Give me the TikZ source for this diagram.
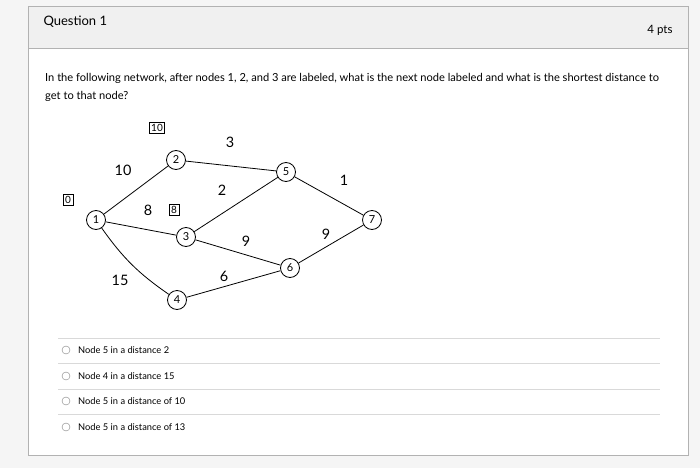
\documentclass[tikz,border=0pt]{standalone}
\usepackage{fontspec}
\setmainfont{Lato}
\begin{document}
\begin{tikzpicture}[x=1pt,y=-1pt,
  nd/.style={circle,draw,thick,minimum size=19pt,inner sep=0pt,font=\fontsize{11}{13}\selectfont},
  ed/.style={thick},
  hw/.style={font=\Large},
  bx/.style={draw,thick,inner sep=2pt,font=\normalsize},
  radio/.style={circle,draw=gray,minimum size=8pt,inner sep=0pt},
  opt/.style={anchor=west,font=\fontsize{9.3}{11}\selectfont,inner sep=0pt}]
\fill[gray!8] (0,0) rectangle (700,468);
\fill[white] (28,6) rectangle (688,455);
\fill[gray!12] (28,6) rectangle (688,48);
\draw[gray!60] (28,6) rectangle (688,455);
\draw[gray!60] (28,48) -- (688,48);
\node[anchor=west,font=\fontsize{13}{15}\selectfont] (q) at (40,22) {Question 1};
\node[anchor=east,font=\fontsize{11.5}{13}\selectfont] (pts) at (676,30) {4 pts};
\node[anchor=west,font=\fontsize{11.1}{13}\selectfont,inner sep=0pt] (t1) at (45,78) {In the following network, after nodes 1, 2, and 3 are labeled, what is the next node labeled and what is the shortest distance to};
\node[anchor=west,font=\fontsize{11.1}{13}\selectfont,inner sep=0pt] (t2) at (45,96) {get to that node?};
\node[nd] (n1) at (96,220) {1};
\node[nd] (n2) at (176,160) {2};
\node[nd] (n3) at (186,237) {3};
\node[nd] (n4) at (177,300) {4};
\node[nd] (n5) at (286,172) {5};
\node[nd] (n6) at (290,268) {6};
\node[nd] (n7) at (372,220) {7};
\draw[ed] (n1) -- (n2);
\draw[ed] (n1) -- (n3);
\draw[ed] (n1) to[bend right=10] (n4);
\draw[ed] (n2) -- (n5);
\draw[ed] (n3) -- (n5);
\draw[ed] (n3) -- (n6);
\draw[ed] (n4) -- (n6);
\draw[ed] (n5) -- (n7);
\draw[ed] (n6) -- (n7);
\node[hw] (l12) at (123,170) {10};
\node[hw] (l13) at (148,210) {8};
\node[bx] (b3) at (174,210) {8};
\node[hw] (l14) at (120,280) {15};
\node[hw] (l25) at (230,142) {3};
\node[hw] (l35) at (222,190) {2};
\node[hw] (l36) at (246,241) {9};
\node[hw] (l46) at (224,276) {6};
\node[hw] (l57) at (344,180) {1};
\node[hw] (l67) at (326,234) {9};
\node[bx] (b2) at (157,128) {10};
\node[bx] (b1) at (68,200) {0};
\foreach \y/\t in {350/{Node 5 in a distance 2},376/{Node 4 in a distance 15},401/{Node 5 in a distance of 10},427/{Node 5 in a distance of 13}}{
  \node[radio] at (66,\y) {};
  \node[opt] at (78,\y) {\t};
}
\foreach \y in {338,363,389,414}{\draw[gray!30] (58,\y) -- (660,\y);}
\end{tikzpicture}
\end{document}
